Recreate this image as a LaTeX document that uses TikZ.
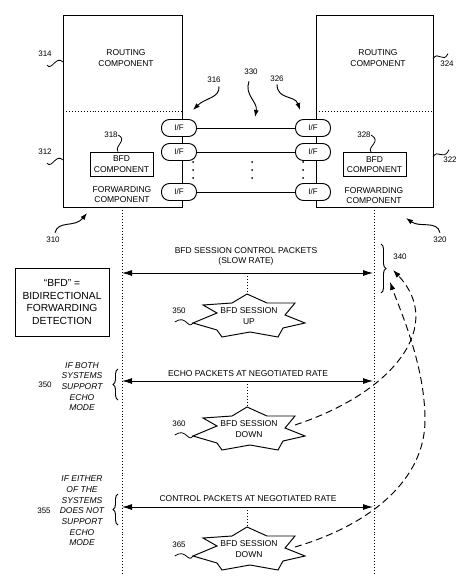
\documentclass[tikz,border=0pt]{standalone}
\usepackage{fontspec}
\setmainfont{Liberation Sans}
\usetikzlibrary{arrows.meta,decorations.pathreplacing}

% star outline round a text node
\newcommand\burstline[1]{%
  \draw[fill=white] ([shift={(-56,7)}]#1.center) -- ([shift={(-32,-3)}]#1.center)
    -- ([shift={(-46,-11)}]#1.center) -- ([shift={(-17,-13)}]#1.center)
    -- ([shift={(-2,-22)}]#1.center) -- ([shift={(18,-13)}]#1.center)
    -- ([shift={(46,-13)}]#1.center) -- ([shift={(36,-1)}]#1.center)
    -- ([shift={(56,7)}]#1.center) -- ([shift={(34,12)}]#1.center)
    -- ([shift={(29,21)}]#1.center) -- ([shift={(1,16)}]#1.center)
    -- ([shift={(-27,21)}]#1.center) -- ([shift={(-32,14)}]#1.center) -- cycle;
  \coordinate (#1-top) at ([shift={(-2,-22)}]#1.center);
  \coordinate (#1-tip) at ([shift={(-56,7)}]#1.center);}

\begin{document}
\begin{tikzpicture}[x=1pt,y=-1pt,line width=0.95pt,
    lbl/.style={font=\fontsize{8.5}{10.5}\selectfont,align=center,inner sep=0pt},
    num/.style={font=\fontsize{8}{10}\selectfont,inner sep=0pt},
    note/.style={font=\fontsize{8.5}{10.7}\selectfont\itshape,align=center,inner sep=0pt},
    iface/.style={draw,fill=white,rounded corners=8pt,minimum width=35pt,minimum height=17pt,
      inner sep=0pt,font=\fontsize{8}{10}\selectfont},
    bfdbox/.style={draw,minimum width=63pt,minimum height=24pt,align=center,inner sep=0pt,
      font=\fontsize{8.5}{10.5}\selectfont},
    life/.style={dotted},
    msg/.style={{Latex[length=10pt,width=6pt]}-{Latex[length=10pt,width=6pt]}},
    hook/.style={-{Latex[length=7pt,width=5pt]}},
    back/.style={dash pattern=on 7pt off 4pt,-{Latex[length=8pt,width=5.5pt]}},
    wig/.style={line width=0.8pt},
    curly/.style={decorate,decoration={brace,amplitude=5pt}}]
\useasboundingbox (0,0) rectangle (474,585);

% the two systems
\draw (63,15) rectangle (182,207);
\draw[life] (63,111) -- (182,111);
\draw (316,15) rectangle (433,207);
\draw[life] (316,111) -- (433,111);
\node[lbl] (rc1) at (126,58) {ROUTING\\COMPONENT};
\node[lbl] (rc2) at (378,58) {ROUTING\\COMPONENT};
\node[bfdbox] (bfd1) at (121.5,164) {BFD\\COMPONENT};
\node[bfdbox] (bfd2) at (374.5,164.5) {BFD\\COMPONENT};
\node[lbl] (fc1) at (122,194.5) {FORWARDING\\COMPONENT};
\node[lbl] (fc2) at (374,195.5) {FORWARDING\\COMPONENT};

% interfaces and links
\foreach \r/\y in {a/128,b/152,c/192} {
  \node[iface] (l\r) at (179,\y) {I/F};
  \node[iface] (r\r) at (313,\y) {I/F};
  \draw (l\r) -- (r\r);
}
\foreach \x in {193,252,303}
  \foreach \y in {162,170,178}
    \fill (\x,\y) circle (1);

% reference numbers
\node[num] (n314) at (45,54) {314};
\draw[wig] ([shift={(2,8)}]n314.south) .. controls (52,71) and (56,55) .. (63,62);
\node[num] (n312) at (45,152) {312};
\draw[wig] ([shift={(2,8)}]n312.south) .. controls (52,169) and (56,153) .. (63,160);
\node[num] (n324) at (447,64) {324};
\draw[wig] (433,59) .. controls (438,50) and (443,64) .. ([shift={(1,-7)}]n324.north);
\node[num] (n322) at (450,160) {322};
\draw[wig] (433,157) .. controls (438,148) and (443,162) .. ([shift={(-1,-7)}]n322.north);
\node[num] (n318) at (111,135) {318};
\draw[wig] (n318.east) .. controls (128,140) and (114,146) .. (bfd1.north -| 118,0);
\node[num] (n328) at (364,135) {328};
\draw[wig] (n328.east) .. controls (382,142) and (367,146) .. (bfd2.north -| 371,0);
\node[num] (n316) at (214,80) {316};
\draw[hook] ([shift={(5,3)}]n316.south) .. controls (220,98) and (205,98) .. (193,110);
\node[num] (n330) at (251,72) {330};
\draw[hook] ([shift={(-2,6)}]n330.south) .. controls (244,95) and (258,102) .. (255,117);
\node[num] (n326) at (277,79) {326};
\draw[hook] ([shift={(0,2)}]n326.south) .. controls (277,100) and (295,95) .. (300,110);
\node[num] (n310) at (53,240) {310};
\draw[hook] ([shift={(2,-4)}]n310.north) .. controls (58,220) and (75,228) .. (87,213);
\node[num] (n320) at (440,240) {320};
\draw[hook] ([shift={(0,-4)}]n320.north) .. controls (437,220) and (420,228) .. (406,218);

% time lines
\draw[life] (122,207) -- (122,575);
\draw[life] (374,207) -- (374,575);
\coordinate (c1) at (247,273);
\coordinate (c2) at (247,381);
\coordinate (c3) at (247,507);
\draw[msg] (122,273) -- (373,273);
\draw[msg] (122,381) -- (373,381);
\draw[msg] (122,507) -- (373,507);
\node[lbl] (m1) at (246,256.5) {BFD SESSION CONTROL PACKETS\\(SLOW RATE)};
\node[lbl] (m2) at (248,374) {ECHO PACKETS AT NEGOTIATED RATE};
\node[lbl] (m3) at (248,499) {CONTROL PACKETS AT NEGOTIATED RATE};

\node[draw,minimum width=94pt,minimum height=68pt,align=center,inner sep=0pt,
  font=\fontsize{10.3}{12.4}\selectfont] (def) at (62,302)
  {“BFD” =\\BIDIRECTIONAL\\FORWARDING\\DETECTION};

\draw[curly] (381,244) -- (381,293);
\node[num] (n340) at (400,257) {340};
\node[note] (q1) at (82,386.5) {IF BOTH\\SYSTEMS\\SUPPORT\\ECHO\\MODE};
\draw[curly] (118,400) -- (118,369);
\node[num] (n350b) at (45,385) {350};
\node[note] (q2) at (82,511) {IF EITHER\\OF THE\\SYSTEMS\\DOES NOT\\SUPPORT\\ECHO\\MODE};
\draw[curly] (118,525) -- (118,494);
\node[num] (n355) at (44,511) {355};

% session states
\node[lbl] (up) at (249,316) {};
\burstline{up}
\node[lbl] at (up) {BFD SESSION\\UP};
\node[lbl] (dn1) at (249,429) {};
\burstline{dn1}
\node[lbl] at (dn1) {BFD SESSION\\DOWN};
\node[lbl] (dn2) at (249,549) {};
\burstline{dn2}
\node[lbl] at (dn2) {BFD SESSION\\DOWN};
\draw[life] (c1) -- (up-top);
\draw[life] (c2) -- (dn1-top);
\draw[life] (c3) -- (dn2-top);
\node[num] (n350) at (179,311) {350};
\draw[wig] ([shift={(3,11)}]n350.west) .. controls (186,314) and (188,330) .. (up-tip);
\node[num] (n360) at (179,424) {360};
\draw[wig] ([shift={(3,11)}]n360.west) .. controls (186,427) and (188,443) .. (dn1-tip);
\node[num] (n365) at (179,545) {365};
\draw[wig] ([shift={(3,11)}]n365.west) .. controls (186,548) and (188,564) .. (dn2-tip);

% fall back to control packets
\coordinate (in1) at (393,270);
\coordinate (in2) at (390,282);
\draw[back] ([shift={(46,-4)}]dn1.center) .. controls (395,392) and (445,325) .. (in1);
\draw[back] ([shift={(46,-2)}]dn2.center) .. controls (370,525) and (425,480) .. (425,420)
  .. controls (425,365) and (400,310) .. (in2);
\end{tikzpicture}
\end{document}
